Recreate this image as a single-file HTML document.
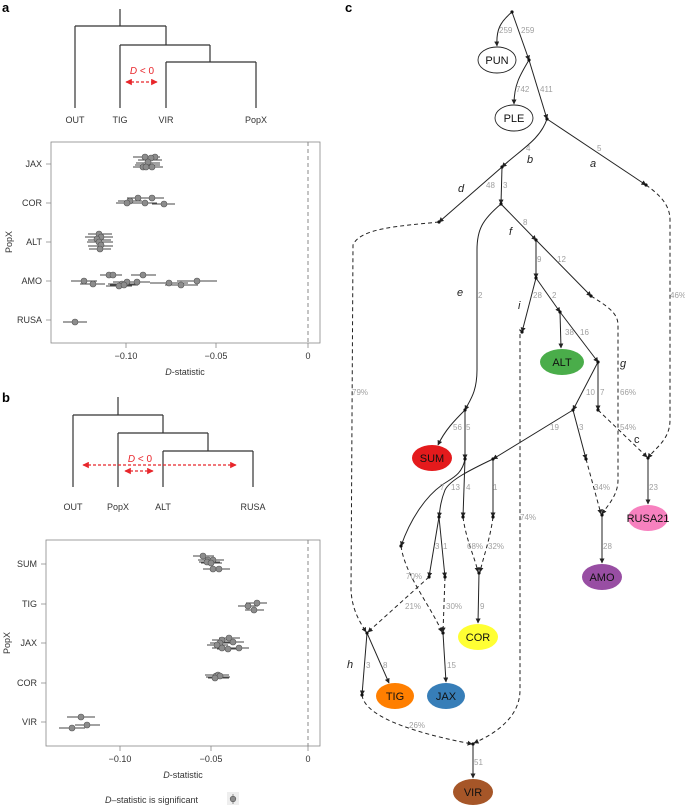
<!DOCTYPE html>
<html><head><meta charset="utf-8"><style>
html,body{margin:0;padding:0;background:#fff;}
svg{display:block;font-family:"Liberation Sans",sans-serif;}
.t{stroke:#333;stroke-width:1.2;fill:none}
.ax{font-size:9px;fill:#333}
.g{font-size:8px;fill:#a0a0a0}
.l{font-size:11px;font-style:italic;fill:#222}
.e{stroke:#222;stroke-width:1;fill:none;marker-end:url(#ar)}
.d{stroke:#222;stroke-width:1;fill:none;stroke-dasharray:4,3;marker-end:url(#ar)}
.pt{fill:#8c8c8c;stroke:#555;stroke-width:0.6}
.eb{stroke:#444;stroke-width:0.9}
.n{font-size:11px;fill:#111;text-anchor:middle}
</style></head><body>
<svg width="685" height="806" viewBox="0 0 685 806">
<defs>
<marker id="ar" viewBox="0 0 10 10" refX="9" refY="5" markerWidth="5" markerHeight="5" orient="auto"><path d="M0,0L10,5L0,10z" fill="#222"/></marker>
<marker id="ra" viewBox="0 0 10 10" refX="9" refY="5" markerWidth="5" markerHeight="5" orient="auto-start-reverse"><path d="M0,0L10,5L0,10z" fill="#e8262b"/></marker>
</defs>
<!-- panel letters -->
<text x="2" y="12" font-size="13" font-weight="bold">a</text>
<text x="2" y="402" font-size="13" font-weight="bold">b</text>
<text x="345" y="12" font-size="13" font-weight="bold">c</text>

<!-- tree a -->
<path class="t" d="M120,9V26M75,26H166M75,26V108M166,26V45M120,45H210M120,45V108M210,45V62M166,62H256M166,62V108M256,62V108"/>
<text x="75" y="123" class="ax" font-size="10" text-anchor="middle">OUT</text>
<text x="120" y="123" class="ax" font-size="10" text-anchor="middle">TIG</text>
<text x="166" y="123" class="ax" font-size="10" text-anchor="middle">VIR</text>
<text x="256" y="123" class="ax" font-size="10" text-anchor="middle">PopX</text>
<text x="142" y="74" font-size="10" fill="#e8262b" text-anchor="middle"><tspan font-style="italic">D</tspan> &lt; 0</text>
<line x1="126" y1="82" x2="157" y2="82" stroke="#e8262b" stroke-width="1.3" stroke-dasharray="3,2" marker-start="url(#ra)" marker-end="url(#ra)"/>

<!-- plot a -->
<rect x="51" y="142" width="269" height="201" fill="none" stroke="#888" stroke-width="0.8"/>
<line x1="308" y1="142" x2="308" y2="343" stroke="#888" stroke-dasharray="4,3"/>
<g class="ax" text-anchor="end">
<text x="42" y="167">JAX</text><text x="42" y="206">COR</text><text x="42" y="245">ALT</text><text x="42" y="284">AMO</text><text x="42" y="323">RUSA</text>
</g>
<g stroke="#888" stroke-width="0.8"><path d="M46,164H51M46,203H51M46,242H51M46,281H51M46,320H51M126,343V348M216,343V348M308,343V348"/></g>
<g class="ax" text-anchor="middle"><text x="126" y="359">−0.10</text><text x="216" y="359">−0.05</text><text x="308" y="359">0</text></g>
<text x="185" y="375" class="ax" font-size="10" text-anchor="middle"><tspan font-style="italic">D</tspan>-statistic</text>
<text x="12" y="242" class="ax" font-size="10" text-anchor="middle" transform="rotate(-90 12 242)">PopX</text>
<g id="pa">
<g class="eb">
<path d="M133,157H160M138,160H162M136,163H160M135,165H160M133,167H158M138,167H163"/>
<path d="M127,198H150M140,198H164M118,201H142M116,203H138M134,203H157M152,204H175"/>
<path d="M88,234H112M85,237H113M88,240H111M87,242H113M88,246H113M89,249H111"/>
<path d="M100,275H118M103,275H122M131,275H156M71,281H97M80,284H105M113,282H140M125,282H150M177,281H217M150,283H188M165,285H198M108,284H136M106,286H132M110,285H138"/>
<path d="M63,322H87"/>
</g>
<g class="pt">
<circle cx="145" cy="157" r="3"/><circle cx="155" cy="157" r="3"/><circle cx="151" cy="158" r="3"/><circle cx="148" cy="162" r="3"/><circle cx="143" cy="167" r="3"/><circle cx="152" cy="167" r="3"/><circle cx="146" cy="167" r="3"/>
<circle cx="138" cy="198" r="3"/><circle cx="152" cy="198" r="3"/><circle cx="130" cy="201" r="3"/><circle cx="127" cy="203" r="3"/><circle cx="145" cy="203" r="3"/><circle cx="164" cy="204" r="3"/>
<circle cx="99" cy="234" r="3"/><circle cx="101" cy="237" r="3"/><circle cx="97" cy="239" r="3"/><circle cx="99" cy="242" r="3"/><circle cx="101" cy="245" r="3"/><circle cx="100" cy="249" r="3"/>
<circle cx="109" cy="275" r="3"/><circle cx="113" cy="275" r="3"/><circle cx="143" cy="275" r="3"/><circle cx="84" cy="281" r="3"/><circle cx="93" cy="284" r="3"/><circle cx="127" cy="282" r="3"/><circle cx="137" cy="282" r="3"/><circle cx="197" cy="281" r="3"/><circle cx="169" cy="283" r="3"/><circle cx="181" cy="285" r="3"/><circle cx="122" cy="284" r="3"/><circle cx="119" cy="286" r="3"/><circle cx="124" cy="285" r="3"/>
<circle cx="75" cy="322" r="3"/>
</g></g>

<!-- tree b -->
<path class="t" d="M118,397V415M73,415H163M73,415V487M163,415V433M118,433H208M118,433V487M208,433V451M163,451H253M163,451V487M253,451V487"/>
<g class="ax" font-size="10" text-anchor="middle"><text x="73" y="510">OUT</text><text x="118" y="510">PopX</text><text x="163" y="510">ALT</text><text x="253" y="510">RUSA</text></g>
<text x="140" y="462" font-size="10" fill="#e8262b" text-anchor="middle"><tspan font-style="italic">D</tspan> &lt; 0</text>
<line x1="83" y1="465" x2="236" y2="465" stroke="#e8262b" stroke-width="1.3" stroke-dasharray="3,2" marker-start="url(#ra)" marker-end="url(#ra)"/>
<line x1="125" y1="471" x2="153" y2="471" stroke="#e8262b" stroke-width="1.3" stroke-dasharray="3,2" marker-start="url(#ra)" marker-end="url(#ra)"/>

<!-- plot b -->
<rect x="46" y="540" width="274" height="206" fill="none" stroke="#888" stroke-width="0.8"/>
<line x1="308" y1="540" x2="308" y2="746" stroke="#888" stroke-dasharray="4,3"/>
<g class="ax" text-anchor="end">
<text x="37" y="567">SUM</text><text x="37" y="607">TIG</text><text x="37" y="646">JAX</text><text x="37" y="686">COR</text><text x="37" y="725">VIR</text>
</g>
<g stroke="#888" stroke-width="0.8"><path d="M41,564H46M41,604H46M41,643H46M41,683H46M41,722H46M120,746V751M211,746V751M308,746V751"/></g>
<g class="ax" text-anchor="middle"><text x="120" y="762">−0.10</text><text x="211" y="762">−0.05</text><text x="308" y="762">0</text></g>
<text x="183" y="778" class="ax" font-size="10" text-anchor="middle"><tspan font-style="italic">D</tspan>-statistic</text>
<text x="10" y="643" class="ax" font-size="10" text-anchor="middle" transform="rotate(-90 10 643)">PopX</text>
<g class="eb">
<path d="M193,556H214M198,560H220M202,560H224M199,562H220M201,563H222M203,569H224M209,569H230"/>
<path d="M246,603H267M238,606H258M245,610H264"/>
<path d="M219,638H240M212,640H233M222,642H244M210,643H231M207,645H228M212,648H233M217,649H240M228,648H249"/>
<path d="M205,675H229M206,677H230M208,678H229"/>
<path d="M67,717H95M75,725H100M59,728H85"/>
</g>
<g class="pt">
<circle cx="203" cy="556" r="3"/><circle cx="208" cy="560" r="3"/><circle cx="213" cy="560" r="3"/><circle cx="207" cy="562" r="3"/><circle cx="211" cy="563" r="3"/><circle cx="213" cy="569" r="3"/><circle cx="219" cy="569" r="3"/>
<circle cx="257" cy="603" r="3"/><circle cx="248" cy="606" r="3"/><circle cx="254" cy="610" r="3"/>
<circle cx="229" cy="638" r="3"/><circle cx="222" cy="640" r="3"/><circle cx="233" cy="642" r="3"/><circle cx="220" cy="643" r="3"/><circle cx="217" cy="645" r="3"/><circle cx="222" cy="648" r="3"/><circle cx="228" cy="649" r="3"/><circle cx="239" cy="648" r="3"/>
<circle cx="216" cy="676" r="3"/><circle cx="218" cy="675" r="3"/><circle cx="220" cy="676" r="3"/><circle cx="215" cy="678" r="3"/>
<circle cx="81" cy="717" r="3"/><circle cx="87" cy="725" r="3"/><circle cx="72" cy="728" r="3"/>
</g>
<text x="105" y="803" class="ax" font-size="10"><tspan font-style="italic">D</tspan>–statistic is significant</text>
<rect x="227" y="792" width="12" height="13" fill="#eee"/>
<line x1="233" y1="794" x2="233" y2="804" stroke="#777" stroke-width="0.8"/>
<circle cx="233" cy="799" r="2.8" class="pt"/>

<!-- panel c: ellipses -->
<g stroke-width="0.9">
<ellipse cx="497" cy="60" rx="19" ry="13" fill="#fff" stroke="#222"/>
<ellipse cx="514" cy="118" rx="19" ry="13" fill="#fff" stroke="#222"/>
<ellipse cx="562" cy="362" rx="22" ry="13" fill="#4aad4a"/>
<ellipse cx="432" cy="458" rx="20" ry="13" fill="#e41a1c"/>
<ellipse cx="648" cy="518" rx="20" ry="13" fill="#f781bf"/>
<ellipse cx="602" cy="577" rx="20" ry="13" fill="#984ea3"/>
<ellipse cx="478" cy="637" rx="20" ry="13" fill="#ffff33"/>
<ellipse cx="395" cy="696" rx="19" ry="13" fill="#ff7f00"/>
<ellipse cx="446" cy="696" rx="19" ry="13" fill="#377eb8"/>
<ellipse cx="473" cy="792" rx="20" ry="13" fill="#a65628"/>
</g>
<g class="n">
<text x="497" y="64">PUN</text><text x="514" y="122">PLE</text><text x="562" y="366">ALT</text><text x="432" y="462">SUM</text><text x="648" y="522">RUSA21</text><text x="602" y="581">AMO</text><text x="478" y="641">COR</text><text x="395" y="700">TIG</text><text x="446" y="700">JAX</text><text x="473" y="796">VIR</text>
</g>

<!-- solid edges -->
<path class="e" d="M512,12C500,22 496,30 497,46"/>
<path class="e" d="M512,12L529,60"/>
<path class="e" d="M529,60C520,75 514,85 514,104"/>
<path class="e" d="M529,60L547,119"/>
<path class="e" d="M547,119C540,140 520,150 502,167"/>
<path class="e" d="M547,119L646,185"/>
<path class="e" d="M502,167L439,222"/>
<path class="e" d="M502,167L501,204"/>
<path class="e" d="M501,204C482,220 477,230 477,250L477,370C477,392 470,400 465,410"/>
<path class="e" d="M501,204L536,240"/>
<path class="e" d="M536,240L536,278"/>
<path class="e" d="M536,240L591,296"/>
<path class="e" d="M536,278L522,332"/>
<path class="e" d="M536,278L560,312"/>
<path class="e" d="M560,312L561,348"/>
<path class="e" d="M560,312L598,362"/>
<path class="e" d="M598,362L598,410"/>
<path class="e" d="M598,362L573,410"/>
<path class="e" d="M465,410C455,420 445,430 438,445"/>
<path class="e" d="M465,410L465,459"/>
<path class="e" d="M573,410L493,459"/>
<path class="e" d="M573,410L586,459"/>
<path class="e" d="M465,459C462,475 452,478 442,485C425,497 410,520 401,546"/>
<path class="e" d="M493,459C470,470 450,480 445,490C441,500 440,508 439,517"/>
<path class="e" d="M465,459L463,517"/>
<path class="e" d="M493,459L493,517"/>
<path class="e" d="M648,458L648,504"/>
<path class="e" d="M602,515L602,563"/>
<path class="e" d="M439,517L429,577"/>
<path class="e" d="M439,517L445,577"/>
<path class="e" d="M479,573L478,623"/>
<path class="e" d="M367,633L362,695"/>
<path class="e" d="M367,633L389,683"/>
<path class="e" d="M443,633L446,682"/>
<path class="e" d="M473,744L473,778"/>

<!-- dashed edges -->
<path class="d" d="M439,222C400,226 360,228 353,245L351,590C352,610 360,622 366,632"/>
<path class="d" d="M646,185C660,195 670,205 670,220L670,420C670,440 655,448 648,458"/>
<path class="d" d="M591,296C605,305 618,312 618,325L618,480C618,495 608,505 602,514"/>
<path class="d" d="M598,410L647,457"/>
<path class="d" d="M586,459L601,514"/>
<path class="d" d="M522,332L520,330L520,690C520,720 490,736 474,743"/>
<path class="d" d="M401,546C405,575 430,605 442,632"/>
<path class="d" d="M429,577L368,632"/>
<path class="d" d="M445,577L443,632"/>
<path class="d" d="M463,517C466,540 475,558 478,572"/>
<path class="d" d="M493,517C490,540 483,558 480,572"/>
<path class="d" d="M362,695C365,720 430,736 472,744"/>

<!-- node dots -->
<g fill="#111">
<circle cx="512" cy="12" r="1.6"/><circle cx="529" cy="60" r="1.6"/><circle cx="547" cy="119" r="1.6"/><circle cx="502" cy="167" r="1.6"/><circle cx="646" cy="185" r="1.6"/><circle cx="439" cy="222" r="1.6"/><circle cx="501" cy="204" r="1.6"/><circle cx="536" cy="240" r="1.6"/><circle cx="536" cy="278" r="1.6"/><circle cx="591" cy="296" r="1.6"/><circle cx="522" cy="332" r="1.6"/><circle cx="560" cy="312" r="1.6"/><circle cx="598" cy="362" r="1.6"/><circle cx="598" cy="410" r="1.6"/><circle cx="573" cy="410" r="1.6"/><circle cx="465" cy="410" r="1.6"/><circle cx="465" cy="459" r="1.6"/><circle cx="493" cy="459" r="1.6"/><circle cx="586" cy="459" r="1.6"/><circle cx="648" cy="458" r="1.6"/><circle cx="602" cy="515" r="1.6"/><circle cx="439" cy="517" r="1.6"/><circle cx="463" cy="517" r="1.6"/><circle cx="493" cy="517" r="1.6"/><circle cx="401" cy="546" r="1.6"/><circle cx="429" cy="577" r="1.6"/><circle cx="445" cy="577" r="1.6"/><circle cx="479" cy="573" r="1.6"/><circle cx="367" cy="633" r="1.6"/><circle cx="443" cy="633" r="1.6"/><circle cx="362" cy="695" r="1.6"/><circle cx="473" cy="744" r="1.6"/>
</g>

<!-- gray labels -->
<g class="g">
<text x="499" y="33">259</text><text x="521" y="33">259</text><text x="516" y="92">742</text><text x="540" y="92">411</text>
<text x="526" y="151">4</text><text x="597" y="151">5</text><text x="486" y="188">48</text><text x="503" y="188">3</text>
<text x="523" y="225">8</text><text x="537" y="262">9</text><text x="557" y="262">12</text><text x="478" y="298">2</text>
<text x="533" y="298">28</text><text x="552" y="298">2</text><text x="670" y="298">46%</text>
<text x="565" y="335">38</text><text x="580" y="335">16</text>
<text x="352" y="395">79%</text><text x="586" y="395">10</text><text x="600" y="395">7</text><text x="620" y="395">66%</text>
<text x="453" y="430">56</text><text x="466" y="430">5</text><text x="550" y="430">19</text><text x="579" y="430">3</text><text x="620" y="430">54%</text>
<text x="440" y="490">7</text><text x="451" y="490">13</text><text x="466" y="490">4</text><text x="493" y="490">1</text><text x="594" y="490">34%</text><text x="649" y="490">23</text>
<text x="520" y="520">74%</text>
<text x="435" y="549">3</text><text x="443" y="549">1</text><text x="467" y="549">68%</text><text x="488" y="549">32%</text><text x="603" y="549">28</text>
<text x="406" y="579">70%</text><text x="405" y="609">21%</text><text x="446" y="609">30%</text><text x="480" y="609">9</text>
<text x="366" y="668">3</text><text x="383" y="668">8</text><text x="447" y="668">15</text>
<text x="409" y="728">26%</text><text x="474" y="765">51</text>
</g>
<g class="l">
<text x="527" y="163">b</text><text x="590" y="167">a</text><text x="458" y="192">d</text><text x="509" y="235">f</text><text x="457" y="296">e</text><text x="518" y="309">i</text><text x="620" y="367">g</text><text x="634" y="443" font-style="normal">c</text><text x="347" y="668">h</text>
</g>
</svg>
</body></html>
